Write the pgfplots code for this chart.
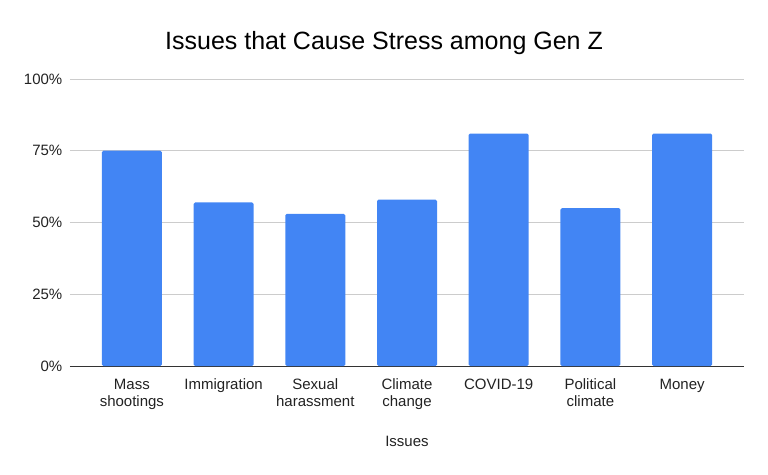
\documentclass[border=0pt]{standalone}
\usepackage{pgfplots}
\pgfplotsset{compat=1.18}
\usepackage{fontspec}
\setmainfont{Liberation Sans}
\definecolor{barblue}{HTML}{4285F4}
\definecolor{labelgray}{HTML}{222222}
\definecolor{gridgray}{HTML}{CCCCCC}
\newcommand{\fl}{\rule{0pt}{11bp}}
\begin{document}
\begin{tikzpicture}
\useasboundingbox (-70bp,-109bp) rectangle (698bp,366bp);
\begin{axis}[
  at={(0,0)}, anchor=south west, scale only axis,
  width=674bp, height=287bp,
  xmin=-0.675, xmax=6.675, ymin=0, ymax=100,
  ybar, bar width=60bp,
  xtick={0,1,2,3,4,5,6},
  xticklabels={{\fl Mass\\shootings},{\fl Immigration},{\fl Sexual\\harassment},{\fl Climate\\change},{\fl COVID-19},{\fl Political\\climate},{\fl Money}},
  xticklabel style={align=center, anchor=north, inner sep=0pt, yshift=-11.8bp,
    font=\fontsize{15bp}{17.4bp}\selectfont, text=labelgray},
  ytick={0,25,50,75,100},
  yticklabels={0\%,25\%,50\%,75\%,100\%},
  yticklabel style={anchor=east, inner sep=0pt, xshift=-7.5bp,
    font=\fontsize{15bp}{17.4bp}\selectfont, text=labelgray},
  major tick length=0pt,
  ymajorgrids, grid style={draw=gridgray, line width=0.8bp},
  axis x line*=bottom, axis y line*=left,
  x axis line style={draw=black!80, line width=1bp, -},
  y axis line style={draw=none},
  title={Issues that Cause Stress among Gen Z},
  title style={at={(axis description cs:0.4659,1)}, anchor=base, inner sep=0pt, yshift=24bp,
    font=\fontsize{25bp}{28bp}\selectfont, text=black},
  xlabel={Issues},
  xlabel style={at={(axis description cs:0.5,0)}, anchor=base, inner sep=0pt, yshift=-80.5bp,
    font=\fontsize{15bp}{17.4bp}\selectfont, text=labelgray},
  clip=false,
]
\addplot[fill=barblue, draw=none, rounded corners=1.5bp] coordinates {
  (0,75) (1,57) (2,53) (3,58) (4,81) (5,55) (6,81)
};
\end{axis}
\end{tikzpicture}
\end{document}
